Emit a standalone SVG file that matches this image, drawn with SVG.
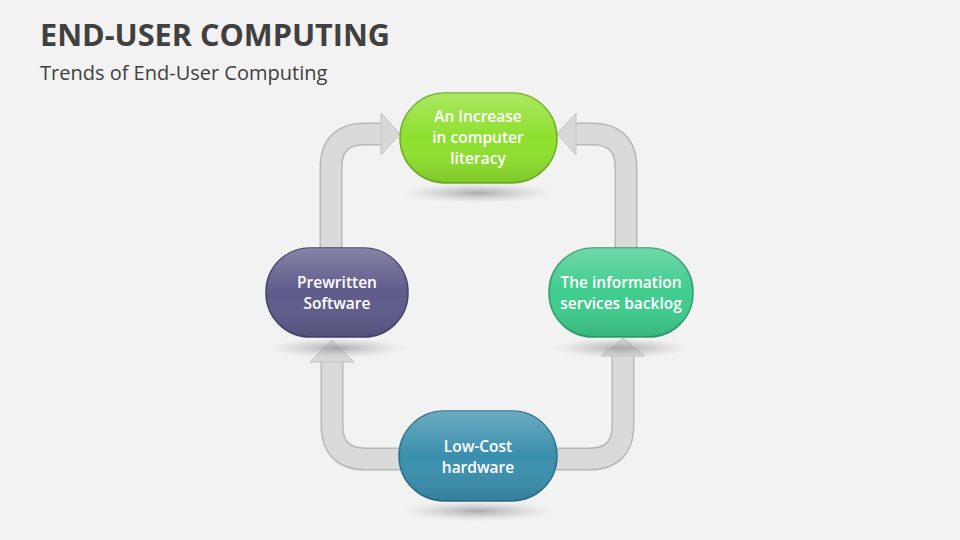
<svg xmlns="http://www.w3.org/2000/svg" width="960" height="540" viewBox="0 0 960 540">
<defs>
<style>
.t{font-family:"Open Sans","Liberation Sans",sans-serif;fill:#fff;font-size:15.5px;font-weight:600;text-anchor:middle}
.band{fill:none;stroke:#b8b8b8;stroke-width:23}
.bandi{fill:none;stroke:#dadada;stroke-width:20}
.head{fill:#d8d8d8;stroke:#c4c4c4;stroke-width:1}
.node{stroke-width:1.5}
</style>
<radialGradient id="sh" cx="0.5" cy="0.5" r="0.5"><stop offset="0" stop-color="#9a9a9a" stop-opacity="0.8"/><stop offset="1" stop-color="#bbb" stop-opacity="0"/></radialGradient>
<linearGradient id="gl" x1="0" y1="0" x2="0" y2="1"><stop offset="0" stop-color="#fff" stop-opacity="0.25"/><stop offset="0.5" stop-color="#fff" stop-opacity="0"/><stop offset="1" stop-color="#000" stop-opacity="0.12"/></linearGradient>
</defs>
<rect width="960" height="540" fill="#f2f2f2"/>
<text x="40" y="46" font-family="'Open Sans','Liberation Sans',sans-serif" font-size="31" font-weight="700" fill="#404040" textLength="350" lengthAdjust="spacingAndGlyphs">END-USER COMPUTING</text>
<text x="40" y="80" font-family="'Open Sans','Liberation Sans',sans-serif" font-size="20" fill="#404040">Trends of End-User Computing</text>
<g id="connectors">
<path class="band" d="M331 250 V168 Q331 134 365 134 H385"/>
<path class="bandi" d="M331 250 V168 Q331 134 365 134 H385"/>
<polygon class="head" points="381,113 400,134 381,155"/>
<path class="band" d="M626 250 V168 Q626 134 592 134 H572"/>
<path class="bandi" d="M626 250 V168 Q626 134 592 134 H572"/>
<polygon class="head" points="576,113 557,134 576,155"/>
<path class="band" d="M402 459 H366 Q332 459 332 425 V358"/>
<path class="bandi" d="M402 459 H366 Q332 459 332 425 V358"/>
<polygon class="head" points="310,362 332,340 354,362"/>
<path class="band" d="M555 459 H589 Q623 459 623 425 V355"/>
<path class="bandi" d="M555 459 H589 Q623 459 623 425 V355"/>
<polygon class="head" points="601,356 623,338 645,356"/>
</g>
<g id="node-top">
<ellipse cx="478" cy="193" rx="75" ry="10" fill="url(#sh)"/>
<rect class="node" x="400" y="93" width="157" height="90" rx="45" fill="#8ee02e" stroke="#6fae20"/>
<rect x="400" y="93" width="157" height="90" rx="45" fill="url(#gl)"/>
<text class="t" x="478" y="122">An Increase</text>
<text class="t" x="478" y="143">in computer</text>
<text class="t" x="478" y="164">literacy</text>
</g>
<g id="node-left">
<ellipse cx="337" cy="348" rx="68" ry="10" fill="url(#sh)"/>
<rect class="node" x="266" y="248" width="142" height="89" rx="44" fill="#5d5b8a" stroke="#45436a"/>
<rect x="266" y="248" width="142" height="89" rx="44" fill="url(#gl)"/>
<text class="t" x="337" y="288">Prewritten</text>
<text class="t" x="337" y="309">Software</text>
</g>
<g id="node-right">
<ellipse cx="621" cy="348" rx="68" ry="10" fill="url(#sh)"/>
<rect class="node" x="549" y="248" width="144" height="89" rx="44" fill="#3ecc8c" stroke="#2ea06c"/>
<rect x="549" y="248" width="144" height="89" rx="44" fill="url(#gl)"/>
<text class="t" x="621" y="288">The information</text>
<text class="t" x="621" y="309">services backlog</text>
</g>
<g id="node-bottom">
<ellipse cx="478" cy="511" rx="75" ry="10" fill="url(#sh)"/>
<rect class="node" x="399" y="411" width="158" height="90" rx="45" fill="#3a8fae" stroke="#2b6f88"/>
<rect x="399" y="411" width="158" height="90" rx="45" fill="url(#gl)"/>
<text class="t" x="478" y="452">Low-Cost</text>
<text class="t" x="478" y="473">hardware</text>
</g>
</svg>
